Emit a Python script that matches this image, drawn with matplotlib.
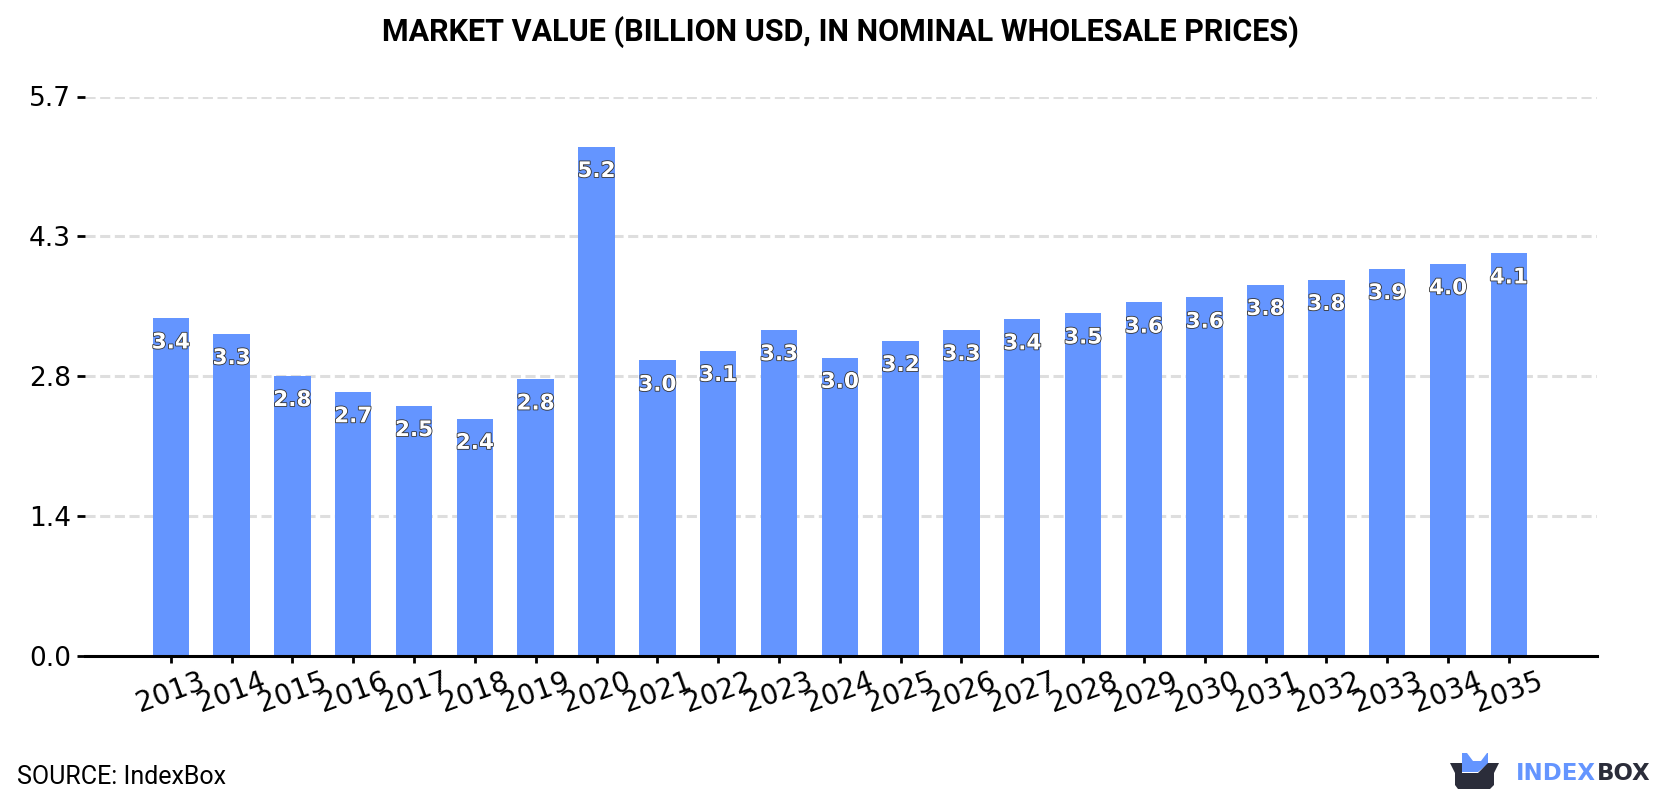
import matplotlib
matplotlib.use("Agg")
import matplotlib.pyplot as plt
import matplotlib.patheffects as pe
from matplotlib.patches import Polygon

years = [2013, 2014, 2015, 2016, 2017, 2018, 2019, 2020, 2021, 2022, 2023, 2024,
         2025, 2026, 2027, 2028, 2029, 2030, 2031, 2032, 2033, 2034, 2035]
values = [3.43, 3.27, 2.845, 2.68, 2.54, 2.41, 2.81, 5.17, 3.00, 3.10, 3.31, 3.03,
          3.20, 3.31, 3.42, 3.48, 3.59, 3.64, 3.77, 3.82, 3.93, 3.98, 4.09]
y_ticks = [0.0, 1.42, 2.84, 4.26, 5.68]

BLUE = "#6495ff"
DARK = "#2b2d3a"
W, H = 1680, 800

fig = plt.figure(figsize=(16.8, 8), dpi=100, facecolor="white")
ax = fig.add_axes([85 / W, 1 - 656 / H, (1597 - 85) / W, (656 - 96.5) / H])

pos = list(range(len(years)))
ax.bar(pos, values, width=0.6, color=BLUE, zorder=2)
ax.set_xlim(-1.41, 23.45)
ax.set_ylim(0, 5.68)

ax.set_yticks(y_ticks)
ax.set_yticklabels([f"{v:.1f}" for v in y_ticks], fontsize=19, color="black")
ax.set_xticks(pos)
ax.set_xticklabels(years, fontsize=20, rotation=20, ha="center", color="black")
ax.tick_params(axis="y", length=6, width=2, pad=4)
ax.tick_params(axis="x", length=5, width=2, pad=3)

ax.grid(axis="y", color="#dedede", linewidth=2.2, linestyle=(0, (3.3, 1.5)), zorder=1)
ax.set_axisbelow(True)
for side in ["top", "right", "left"]:
    ax.spines[side].set_visible(False)
ax.spines["bottom"].set_linewidth(2.2)
ax.spines["bottom"].set_zorder(5)

# value labels sit just under the top of each bar
for x, v in zip(pos, values):
    ax.annotate(f"{v:.1f}", (x, v), xytext=(0, -17.5), textcoords="offset points",
                ha="center", va="center", fontsize=15.5, fontweight="bold",
                color="white", zorder=4,
                path_effects=[pe.withStroke(linewidth=1.2, foreground="#333333")])

fig.text(0.5, 1 - 32 / H, "MARKET VALUE (BILLION USD, IN NOMINAL WHOLESALE PRICES)",
         ha="center", va="center", fontsize=22, fontweight="bold",
         family="Roboto", color="black")
fig.text(17 / W, 1 - 777 / H, "SOURCE: IndexBox", ha="left", va="center",
         fontsize=18, family="Roboto", color="black")


# logo, laid out in pixel coordinates
def px(points):
    return [(x / W, 1 - y / H) for x, y in points]


fig.add_artist(Polygon(px([(1462, 772), (1462, 753), (1467, 753), (1473, 761), (1481, 761),
                           (1487, 753), (1488, 753), (1488, 764), (1478, 772)]),
                       closed=True, facecolor=BLUE, edgecolor="none",
                       transform=fig.transFigure, zorder=3))
fig.add_artist(Polygon(px([(1450, 763), (1462, 763), (1462, 773), (1478, 773), (1488, 763),
                           (1499, 763), (1494, 773), (1494, 785), (1490, 789), (1458, 789),
                           (1455, 785), (1455, 773)]),
                       closed=True, facecolor=DARK, edgecolor="none",
                       transform=fig.transFigure, zorder=4))
fig.text(1516 / W, 1 - 774 / H, "INDEX", ha="left", va="center", fontsize=16.5,
         fontweight="bold", family="DejaVu Sans", color=BLUE)
fig.text(1597 / W, 1 - 774 / H, "BOX", ha="left", va="center", fontsize=16.5,
         fontweight="bold", family="DejaVu Sans", color=DARK)

fig.savefig("out.png", dpi=100, facecolor="white")
plt.close(fig)
